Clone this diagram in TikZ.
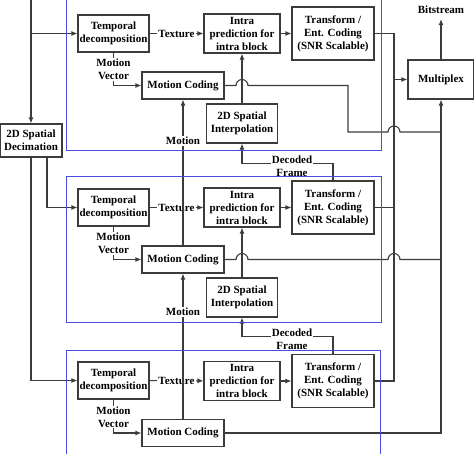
\documentclass[tikz,border=0pt]{standalone}
\usepackage{fontspec}
\setmainfont{Liberation Serif}[BoldFont={Liberation Serif Bold}]
\definecolor{frameblue}{HTML}{4B4BDF}
\definecolor{wiregray}{HTML}{3C3C3C}
\usetikzlibrary{calc, arrows.meta}

\begin{document}
\begin{tikzpicture}[
  x=1pt, y=1pt,
  box/.style={draw=wiregray, line width=1.1pt, fill=white, align=center,
              inner sep=1pt, font=\fontsize{11}{13}\selectfont\bfseries},
  tbox/.style={box, minimum width=71pt, minimum height=37pt},
  ibox/.style={box, minimum width=76pt, minimum height=39pt},
  xbox/.style={box, minimum width=82pt, minimum height=53pt},
  mbox/.style={box, minimum width=82pt, minimum height=27pt},
  pbox/.style={box, minimum width=71pt, minimum height=39pt},
  lbl/.style={fill=white, inner sep=1pt, align=center,
              font=\fontsize{11}{13}\selectfont\bfseries},
  wire/.style={draw=wiregray, line width=1.1pt},
  flow/.style={wire, -{Latex[length=6pt, width=5pt]}},
  layer/.style={draw=frameblue, line width=1pt},
]
\clip (0,0) rectangle (474,-454);

\node[tbox] (temp1) at (113.5,-33.5) {Temporal\\decomposition};
\node[ibox] (intra1) at (242,-33.5) {Intra\\prediction for\\intra block};
\node[xbox] (trans1) at (333,-33.5) {Transform /\\Ent. Coding\\(SNR Scalable)};
\node[mbox] (mc1) at (183,-85.5) {Motion Coding};
\node[pbox] (interp1) at (242,-123.5) {2D Spatial\\Interpolation};

\node[tbox] (temp2) at (113.5,-207.5) {Temporal\\decomposition};
\node[ibox] (intra2) at (242,-207.5) {Intra\\prediction for\\intra block};
\node[xbox] (trans2) at (333,-207.5) {Transform /\\Ent. Coding\\(SNR Scalable)};
\node[mbox] (mc2) at (183,-259.5) {Motion Coding};
\node[pbox] (interp2) at (242,-297.5) {2D Spatial\\Interpolation};

\node[tbox] (temp3) at (113.5,-380.5) {Temporal\\decomposition};
\node[ibox] (intra3) at (242,-381) {Intra\\prediction for\\intra block};
\node[xbox] (trans3) at (333,-381) {Transform /\\Ent. Coding\\(SNR Scalable)};
\node[mbox] (mc3) at (183,-433) {Motion Coding};

\node[box, minimum width=62pt, minimum height=33pt] (dec) at (31,-140.5) {2D Spatial\\Decimation};
\node[box, minimum width=66pt, minimum height=39pt] (mux) at (441,-79.5) {Multiplex};
\node[lbl, fill=none] (bits) at (441,-10) {Bitstream};

\coordinate (src) at (31,0);
\coordinate (tk) at (394,-33.5);

\draw[flow] (src) -- (dec.north);
\draw[flow] (src |- temp1.west) -- (temp1.west);
\draw[flow] ([xshift=16pt]dec.south) |- (temp2.west);
\draw[flow] (dec.south) |- (temp3.west);

\draw[flow] (temp1) -- node[lbl] (tex1) {Texture} (intra1);
\draw[flow] (temp2) -- node[lbl] (tex2) {Texture} (intra2);
\draw[flow] (temp3) -- node[lbl] (tex3) {Texture} (intra3);
\draw[flow] (intra1) -- (trans1);
\draw[flow] (intra2) -- (trans2);
\draw[flow] (intra3) -- (trans3);

\draw[flow] (temp1.south) |- node[lbl, pos=0.26] (mv1) {Motion\\Vector} (mc1.west);
\draw[flow] (temp2.south) |- node[lbl, pos=0.26] (mv2) {Motion\\Vector} (mc2.west);
\draw[flow] (temp3.south) |- node[lbl, pos=0.26] (mv3) {Motion\\Vector} (mc3.west);

\draw[flow] (mc2.north) -- node[lbl, pos=0.716] (mo1) {Motion} (mc1.south);
\draw[flow] (mc3.north) -- node[lbl, pos=0.735] (mo2) {Motion} (mc2.south);

\draw[flow] (interp1) -- (intra1);
\draw[flow] (interp2) -- (intra2);
\draw[flow] (trans2.north) -- ++(0,17) -| node[lbl, pos=0.225, yshift=-2.5pt] (df1) {Decoded\\Frame} (interp1.south);
\draw[flow] (trans3.north) -- ++(0,17) -| node[lbl, pos=0.225, yshift=-2pt] (df2) {Decoded\\Frame} (interp2.south);

\draw[wire] (trans1.east) -- (tk) -- (tk |- trans3.east) -- (trans3.east);
\draw[wire] (trans2.east) -- (tk |- trans2.east);
\draw[flow] (tk |- mux.west) -- (mux.west);
\draw[flow] (mux) -- ([yshift=-4pt]bits.south);

\draw[flow] (mc3.east) -| (mux.south);
\draw[wire] (mc1.east) -- (236,-85.5) arc[start angle=180, end angle=0, radius=6pt]
  -- (348,-85.5) -- (348,-132) -- (388,-132) arc[start angle=180, end angle=0, radius=6pt]
  -- (mux.south |- 0,-132);
\draw[wire] (mc2.east) -- (236,-259.5) arc[start angle=180, end angle=0, radius=6pt]
  -- (388,-259.5) arc[start angle=180, end angle=0, radius=6pt]
  -- (mux.south |- 0,-259.5);

\draw[layer] (66.5,5) rectangle (381,-151);
\draw[layer] (66.5,-177) rectangle (381,-323);
\draw[layer] (66.5,-351) rectangle (380,-460);
\end{tikzpicture}
\end{document}
